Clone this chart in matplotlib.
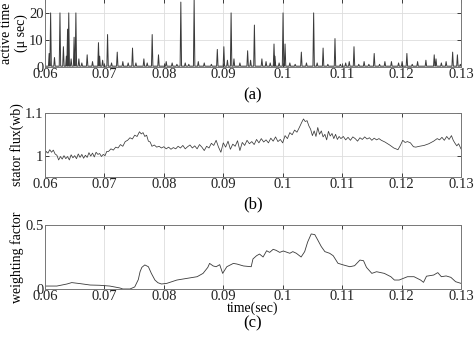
import matplotlib
matplotlib.use("Agg")
import matplotlib.pyplot as plt

plt.rcParams['font.family'] = ['Liberation Serif', 'DejaVu Serif']

# ---------- data (a): active time spikes ----------
spike_t = [0.0607, 0.06095, 0.0616, 0.06252, 0.0631, 0.0636, 0.0638, 0.0640, 0.0644,
           0.0649, 0.0652, 0.0657, 0.0662, 0.0671, 0.0680, 0.0690, 0.0692, 0.0697,
           0.07053, 0.0712, 0.07216, 0.0731, 0.0740, 0.07473, 0.0753, 0.07664, 0.0772,
           0.07804, 0.0791, 0.0804, 0.0814, 0.0822, 0.08286, 0.0836, 0.0842, 0.08510,
           0.0858, 0.0868, 0.0880, 0.0890, 0.0901, 0.0907, 0.09132, 0.0918, 0.0928,
           0.0941, 0.0946, 0.09524, 0.0965, 0.0972, 0.0979, 0.09854, 0.0987, 0.0994,
           0.10006, 0.1004, 0.1012, 0.1021, 0.10314, 0.1040, 0.10521, 0.1058, 0.1068,
           0.1076, 0.10880, 0.1097, 0.1106, 0.1112, 0.1120, 0.1128, 0.1137, 0.1145,
           0.1154, 0.1163, 0.1172, 0.1183, 0.1195, 0.1201, 0.1209, 0.1218, 0.1227,
           0.1241, 0.1255, 0.1258, 0.1267, 0.1275, 0.1286, 0.1294, 0.1299]
spike_h = [5.0, 20.0, 3.5, 20.0, 7.5, 4.0, 14.0, 20.0, 3.0,
           11.0, 20.0, 3.0, 1.5, 4.5, 2.0, 9.0, 4.0, 2.5,
           12.0, 1.5, 5.5, 2.0, 1.5, 7.0, 1.5, 3.0, 1.5,
           12.0, 4.5, 2.0, 1.5, 1.0, 24.0, 1.5, 1.0, 25.0,
           2.0, 1.5, 1.0, 6.5, 7.5, 2.5, 20.0, 3.0, 1.5,
           6.0, 2.5, 15.5, 3.0, 2.0, 1.5, 8.5, 4.0, 1.5,
           20.0, 8.5, 1.5, 1.0, 5.5, 1.5, 20.0, 1.5, 7.0,
           1.0, 10.5, 1.0, 1.5, 2.0, 7.5, 1.0, 2.0, 1.0,
           5.0, 1.0, 2.0, 2.0, 1.5, 2.0, 5.0, 1.0, 2.0,
           2.5, 4.5, 3.0, 1.5, 2.0, 5.5, 4.5, 1.0]
spike_w = 0.00012

# ---------- data (b): stator flux ----------
flux_t = [0.0600, 0.0602, 0.0605, 0.0608, 0.0611, 0.0614, 0.0617, 0.0620, 0.0623, 0.0626,
          0.0629, 0.0632, 0.0635, 0.0638, 0.0641, 0.0644, 0.0647, 0.0650, 0.0653, 0.0656,
          0.0659, 0.0662, 0.0665, 0.0668, 0.0671, 0.0674, 0.0677, 0.0680, 0.0683, 0.0686,
          0.0689, 0.0692, 0.0695, 0.0698, 0.0701, 0.0704,
          0.0707, 0.0711, 0.0715, 0.0719, 0.0723, 0.0727, 0.0731, 0.0735, 0.0739, 0.0743,
          0.0747, 0.0751, 0.0755, 0.0759, 0.0762,
          0.0765, 0.0768, 0.0771, 0.0774, 0.0777, 0.0780, 0.0784, 0.0788,
          0.0792, 0.0796, 0.0800, 0.0804, 0.0808, 0.0812, 0.0816, 0.0820, 0.0824, 0.0828,
          0.0832, 0.0836, 0.0840, 0.0844, 0.0848, 0.0852, 0.0856, 0.0860, 0.0864, 0.0868,
          0.0872,
          0.0876, 0.0880, 0.0884, 0.0888, 0.0892, 0.0896, 0.0900, 0.0904, 0.0908, 0.0912,
          0.0916, 0.0920, 0.0924, 0.0928, 0.0932, 0.0936, 0.0940, 0.0944, 0.0948, 0.0952,
          0.0956, 0.0960, 0.0964, 0.0968, 0.0972, 0.0976, 0.0980, 0.0984, 0.0988, 0.0992,
          0.0996, 0.1000,
          0.1004, 0.1008, 0.1012, 0.1016, 0.1020, 0.1024, 0.1028, 0.1032, 0.1035, 0.1038,
          0.1041, 0.1044, 0.1047, 0.1050, 0.1053, 0.1056, 0.1059, 0.1062, 0.1065, 0.1068,
          0.1071, 0.1074, 0.1077, 0.1080, 0.1083, 0.1086, 0.1089, 0.1092, 0.1095, 0.1098,
          0.1102, 0.1106, 0.1110, 0.1114, 0.1118, 0.1122, 0.1126, 0.1130, 0.1134, 0.1138,
          0.1142, 0.1146, 0.1150, 0.1154, 0.1158, 0.1162, 0.1166, 0.1172, 0.1180, 0.1187,
          0.1194,
          0.1198, 0.1202, 0.1206, 0.1210, 0.1215, 0.1220, 0.1224, 0.1230, 0.1238, 0.1246,
          0.1254, 0.1260, 0.1264, 0.1268, 0.1272, 0.1276, 0.1280, 0.1284, 0.1287, 0.1290,
          0.1293, 0.1296, 0.1300]
flux_v = [1.000, 1.010, 1.006, 1.014, 1.008, 1.013, 1.004, 1.001, 0.990, 0.998,
          0.992, 1.000, 0.993, 0.998, 0.990, 1.002, 0.995, 1.000, 0.993, 1.004,
          0.996, 1.003, 0.994, 1.001, 0.996, 1.007, 0.999, 1.006, 0.997, 1.008,
          1.003, 1.005, 0.998, 1.003, 1.000, 1.010,
          1.010, 1.016, 1.013, 1.020, 1.018, 1.026, 1.022, 1.033, 1.036, 1.042,
          1.039, 1.048, 1.045, 1.056, 1.051,
          1.054, 1.045, 1.048, 1.034, 1.032, 1.022, 1.025, 1.020,
          1.022, 1.018, 1.021, 1.016, 1.020, 1.015, 1.019, 1.016, 1.022, 1.018,
          1.024, 1.016, 1.021, 1.025, 1.018, 1.023, 1.016, 1.026, 1.020, 1.012,
          1.022,
          1.018, 1.029, 1.024, 1.036, 1.020, 1.008, 1.030, 1.020, 1.034, 1.015,
          1.027, 1.022, 1.035, 1.012, 1.031, 1.024, 1.036, 1.028, 1.033, 1.026,
          1.038, 1.030, 1.040, 1.032, 1.037, 1.030, 1.041, 1.034, 1.044, 1.033,
          1.038, 1.030,
          1.047, 1.040, 1.054, 1.049, 1.060, 1.055, 1.066, 1.078, 1.086, 1.080,
          1.082, 1.070, 1.062, 1.047, 1.058, 1.045, 1.066, 1.050, 1.058, 1.044,
          1.050, 1.037, 1.057, 1.046, 1.052, 1.040, 1.050, 1.038, 1.045, 1.040,
          1.045, 1.037, 1.043, 1.036, 1.044, 1.040, 1.034, 1.042, 1.038, 1.044,
          1.039, 1.042, 1.036, 1.041, 1.037, 1.040, 1.036, 1.032, 1.025, 1.018,
          1.014,
          1.024, 1.036, 1.031, 1.033, 1.030, 1.021, 1.020, 1.022, 1.024, 1.028,
          1.034, 1.040, 1.037, 1.043, 1.036, 1.045, 1.038, 1.047, 1.036, 1.029,
          1.023, 1.028, 1.016]

# ---------- data (c): weighting factor ----------
wf_t = [0.0600, 0.0620, 0.0637, 0.0645, 0.0659, 0.0676, 0.0692, 0.0709, 0.0726, 0.0731,
        0.0743, 0.0751, 0.0757, 0.0760, 0.0763, 0.0768, 0.0774, 0.0779, 0.0785, 0.0790,
        0.0796, 0.0805, 0.0822, 0.0839, 0.0856, 0.0866, 0.0874, 0.0877, 0.0883, 0.0888,
        0.0894, 0.0899, 0.0906, 0.0917, 0.0923, 0.0934, 0.0947, 0.0950, 0.0956, 0.0961,
        0.0967, 0.0973, 0.0978, 0.0984, 0.0989, 0.0995, 0.1001, 0.1012, 0.1017, 0.1023,
        0.1031, 0.1037, 0.1042, 0.1048, 0.1054, 0.1059, 0.1065, 0.1071, 0.1079, 0.1085,
        0.1093, 0.1102, 0.1113, 0.1121, 0.1130, 0.1136, 0.1141, 0.1150, 0.1158, 0.1171,
        0.1182, 0.1188, 0.1196, 0.1210, 0.1221, 0.1232, 0.1237, 0.1242, 0.1254, 0.1261,
        0.1267, 0.1275, 0.1283, 0.1291, 0.1300]
wf_v = [0.023, 0.023, 0.039, 0.050, 0.042, 0.031, 0.029, 0.023, 0.008, 0.000,
        0.000, 0.016, 0.073, 0.135, 0.169, 0.188, 0.174, 0.122, 0.070, 0.049,
        0.039, 0.044, 0.070, 0.083, 0.096, 0.122, 0.169, 0.200, 0.180, 0.174,
        0.190, 0.122, 0.174, 0.200, 0.195, 0.180, 0.174, 0.235, 0.260, 0.273,
        0.250, 0.299, 0.286, 0.310, 0.302, 0.286, 0.297, 0.279, 0.292, 0.279,
        0.250, 0.292, 0.367, 0.430, 0.425, 0.383, 0.331, 0.292, 0.279, 0.260,
        0.201, 0.188, 0.174, 0.182, 0.226, 0.221, 0.169, 0.122, 0.135, 0.122,
        0.096, 0.070, 0.070, 0.096, 0.096, 0.070, 0.052, 0.100, 0.109, 0.128,
        0.096, 0.102, 0.091, 0.057, 0.044]

xticks = [0.06, 0.07, 0.08, 0.09, 0.1, 0.11, 0.12, 0.13]
xticklabels = ['0.06', '0.07', '0.08', '0.09', '0.1', '0.11', '0.12', '0.13']

# build spike series
at_t, at_v = [0.06], [0.3]
for t, h in zip(spike_t, spike_h):
    at_t += [t - spike_w, t, t + spike_w]
    at_v += [0.3, h, 0.3]
at_t.append(0.13)
at_v.append(0.3)

fig = plt.figure(figsize=(4.74, 3.38), dpi=100)
left, width = 0.0949, 0.8776
ax_a = fig.add_axes([left, 0.8018, width, 0.200])
ax_b = fig.add_axes([left, 0.4763, width, 0.1894])
ax_c = fig.add_axes([left, 0.1450, width, 0.1893])

lc = '#3a3a3a'
ax_a.plot(at_t, at_v, color=lc, lw=0.7)
ax_b.plot(flux_t, flux_v, color=lc, lw=0.55)
ax_c.plot(wf_t, wf_v, color=lc, lw=0.6)

ax_a.set_ylim(0, 25)
ax_a.set_yticks([0, 10, 20])
ax_b.set_ylim(0.95, 1.1)
ax_b.set_yticks([1, 1.1])
ax_b.set_yticklabels(['1', '1.1'])
ax_c.set_ylim(0, 0.5)
ax_c.set_yticks([0, 0.5])
ax_c.set_yticklabels(['0', '0.5'])

for ax in (ax_a, ax_b, ax_c):
    ax.set_xlim(0.06, 0.13)
    ax.set_xticks(xticks)
    ax.set_xticklabels(xticklabels)
    ax.grid(True, color='#dddddd', lw=0.6)
    ax.tick_params(direction='in', top=True, right=True, length=3, width=0.6,
                   labelsize=10.5, pad=1, colors='#222222')
    for s in ax.spines.values():
        s.set_color('#777777')
        s.set_linewidth(0.7)

ax_a.set_ylabel('active time\n(\u03bc sec)', fontsize=10, labelpad=1, linespacing=1.1)
ax_b.set_ylabel('stator flux(wb)', fontsize=10, labelpad=1)
ax_c.set_ylabel('weighting factor', fontsize=10, labelpad=1)
ax_c.set_xlabel('time(sec)', fontsize=10, labelpad=-1)

fig.text(0.533, 1 - 95 / 338, '(a)', ha='center', va='center', fontsize=12)
fig.text(0.533, 1 - 204 / 338, '(b)', ha='center', va='center', fontsize=12)
fig.text(0.533, 1 - 323 / 338, '(c)', ha='center', va='center', fontsize=12)

fig.savefig('out.png', dpi=100)
